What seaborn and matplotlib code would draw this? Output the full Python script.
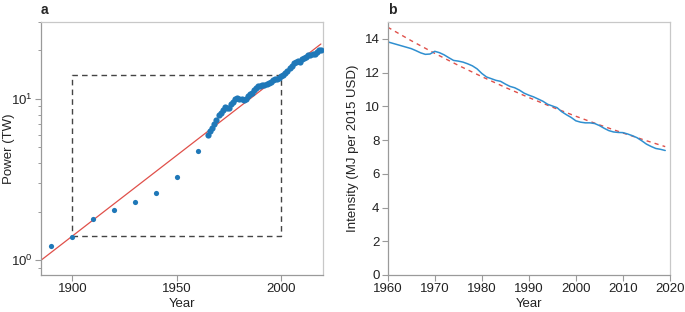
import numpy as np
import pandas as pd
import matplotlib
matplotlib.use("Agg")
import matplotlib.pyplot as plt
import matplotlib.ticker as mticker
import seaborn as sns

# panel a: world primary power (TW)
decade_years = [1890, 1900, 1910, 1920, 1930, 1940, 1950, 1960]
decade_power = [1.22, 1.40, 1.80, 2.06, 2.29, 2.62, 3.28, 4.77]

annual_years = list(range(1965, 2020))
annual_power = [6.0, 6.35, 6.6, 7.0, 7.45, 7.95, 8.2, 8.55, 8.85, 8.8,
                8.8, 9.25, 9.6, 10.0, 10.2, 10.05, 9.95, 9.9, 10.05, 10.5,
                10.7, 10.95, 11.3, 11.7, 11.95, 12.05, 12.2, 12.25, 12.4, 12.55,
                12.8, 13.1, 13.25, 13.35, 13.55, 13.9, 14.0, 14.4, 14.9, 15.6,
                16.1, 16.6, 17.0, 17.2, 16.9, 17.7, 18.0, 18.3, 18.6, 18.8,
                18.9, 19.1, 19.5, 20.0, 20.0]

fit_a_years = [1885, 2019]
fit_a_power = [1.0, 21.9]

box_years = [1900, 2000]
box_power = [1.41, 14.1]

# panel b: energy intensity (MJ per 2015 USD)
intensity_years = list(range(1960, 2020))
intensity = [13.82, 13.74, 13.66, 13.58, 13.50, 13.42, 13.30, 13.17, 13.08, 13.10,
             13.26, 13.18, 13.05, 12.88, 12.72, 12.68, 12.62, 12.52, 12.40, 12.22,
             11.95, 11.74, 11.64, 11.54, 11.48, 11.32, 11.18, 11.10, 10.96, 10.78,
             10.66, 10.56, 10.43, 10.30, 10.12, 10.02, 9.92, 9.68, 9.50, 9.34,
             9.14, 9.06, 9.02, 9.02, 8.98, 8.86, 8.70, 8.56, 8.48, 8.45,
             8.44, 8.36, 8.26, 8.14, 7.96, 7.76, 7.62, 7.50, 7.45, 7.38]

fit_b_years = [1960, 1965, 1970, 1975, 1980, 1985, 1990, 1995, 2000, 2005, 2010, 2015, 2019]
fit_b_values = [14.69, 13.89, 13.14, 12.43, 11.76, 11.12, 10.52, 9.95, 9.41, 8.90, 8.42, 7.96, 7.61]

sns.set_style("ticks")
plt.rcParams["font.family"] = ["Liberation Sans", "DejaVu Sans"]
plt.rcParams["mathtext.fontset"] = "custom"
plt.rcParams["mathtext.rm"] = "Liberation Sans"
plt.rcParams["mathtext.it"] = "Liberation Sans:italic"

BLUE_DOT = "#1f78b8"
BLUE_LINE = "#2f8fd0"
RED = "#e0504a"
SPINE = "#9a9a9a"
TEXT = "#222222"

fig = plt.figure(figsize=(6.85, 3.12), dpi=100)
ax_a = fig.add_axes([0.0599, 0.1186, 0.4116, 0.811])
ax_b = fig.add_axes([0.566, 0.1186, 0.412, 0.811])

# ---- panel a
df_dec = pd.DataFrame({"year": decade_years, "power": decade_power})
df_ann = pd.DataFrame({"year": annual_years, "power": annual_power})
df_fit_a = pd.DataFrame({"year": fit_a_years, "power": fit_a_power})

ax_a.set_yscale("log")
sns.lineplot(data=df_fit_a, x="year", y="power", ax=ax_a, color=RED, linewidth=0.9, zorder=2)
ax_a.plot([box_years[0], box_years[1], box_years[1], box_years[0], box_years[0]],
          [box_power[0], box_power[0], box_power[1], box_power[1], box_power[0]],
          color="#444444", linestyle=(0, (4, 3)), linewidth=1.0, zorder=1)
sns.scatterplot(data=df_dec, x="year", y="power", ax=ax_a, color=BLUE_DOT, s=14,
                linewidth=0, zorder=3)
sns.scatterplot(data=df_ann, x="year", y="power", ax=ax_a, color=BLUE_DOT, s=20,
                linewidth=0, zorder=3)

ax_a.set_xlim(1885, 2020)
ax_a.set_ylim(0.81, 30)
ax_a.set_xticks([1900, 1950, 2000])
ax_a.yaxis.set_major_locator(mticker.LogLocator(base=10))
ax_a.yaxis.set_minor_locator(mticker.LogLocator(base=10, subs=np.arange(2, 10)))
ax_a.yaxis.set_minor_formatter(mticker.NullFormatter())
ax_a.set_xlabel("Year", fontsize=9.5, color=TEXT, labelpad=2)
ax_a.set_ylabel("Power (TW)", fontsize=9.5, color=TEXT)
ax_a.yaxis.set_label_coords(-0.094, 0.5)

# ---- panel b
df_int = pd.DataFrame({"year": intensity_years, "intensity": intensity})
df_fit_b = pd.DataFrame({"year": fit_b_years, "intensity": fit_b_values})
sns.lineplot(data=df_fit_b, x="year", y="intensity", ax=ax_b, color=RED,
             linewidth=1.0, linestyle=(0, (3, 3)))
sns.lineplot(data=df_int, x="year", y="intensity", ax=ax_b, color=BLUE_LINE, linewidth=1.1)
ax_b.set_xlim(1960, 2020)
ax_b.set_ylim(0, 15)
ax_b.set_xticks(range(1960, 2021, 10))
ax_b.set_yticks(range(0, 15, 2))
ax_b.set_xlabel("Year", fontsize=9.5, color=TEXT, labelpad=2)
ax_b.set_ylabel("Intensity (MJ per 2015 USD)", fontsize=9.5, color=TEXT, labelpad=4)

for ax in (ax_a, ax_b):
    for side in ["left", "bottom"]:
        ax.spines[side].set_color(SPINE)
        ax.spines[side].set_linewidth(0.9)
    for side in ["top", "right"]:
        ax.spines[side].set_visible(True)
        ax.spines[side].set_color("#c8c8c8")
        ax.spines[side].set_linewidth(0.9)
    ax.tick_params(axis="both", which="major", direction="out", length=4, width=0.8,
                   color=SPINE, labelsize=9.5, labelcolor=TEXT, pad=2)
    ax.tick_params(axis="both", which="minor", direction="out", length=2.5, width=0.7,
                   color=SPINE)

fig.text(0.0599, 0.99, "a", fontsize=10, fontweight="bold", va="top", ha="left")
fig.text(0.566, 0.99, "b", fontsize=10, fontweight="bold", va="top", ha="left")

fig.savefig("out.png", dpi=100)
